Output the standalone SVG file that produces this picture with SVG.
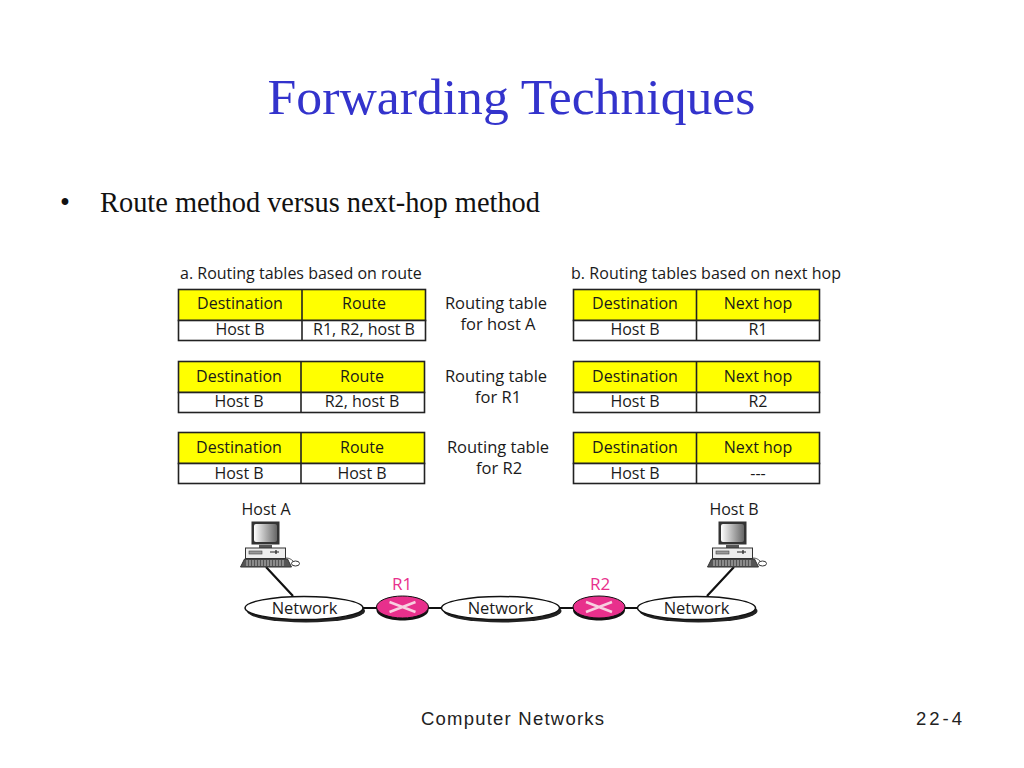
<svg xmlns="http://www.w3.org/2000/svg" width="1024" height="768" viewBox="0 0 1024 768">
<style>
.s{font-family:"Open Sans","Noto Sans",sans-serif;font-size:16px;fill:#1a1a1a;text-anchor:middle}
.l{text-anchor:start}
.b{font-size:16.500px}
.r{fill:#e8308c;font-size:17px}
.h{fill:#ffff00;stroke:#222;stroke-width:1.6}
.c{fill:#fff;stroke:#222;stroke-width:1.6}
.w{stroke:#111;stroke-width:2.2;fill:none}
.d{stroke:#222;stroke-width:1.6;fill:none}
</style>
<defs>
<linearGradient id="scr" x1="0" x2="1"><stop offset="0" stop-color="#fff"/><stop offset="1" stop-color="#666"/></linearGradient>
<g id="pc">
<rect x="11.500" y="0.500" width="28" height="23" fill="#333"/>
<rect x="14" y="3" width="23" height="18" rx="2" fill="url(#scr)"/>
<rect x="19" y="24" width="13" height="3" fill="#555"/>
<rect x="5.500" y="27" width="40" height="10.500" fill="#eee" stroke="#333"/>
<rect x="9" y="30" width="13" height="3" fill="#999" stroke="#444" stroke-width=".6"/>
<path d="M30 31h9M36 29v4" stroke="#222" stroke-width="1.200" fill="none"/>
<path d="M0.500 46l4-8h43l4 8z" fill="#555" stroke="#333"/>
<path d="M7 39v6M10 39v6M13 39v6M16 39v6M19 39v6M22 39v6M25 39v6M28 39v6M31 39v6M34 39v6M37 39v6M40 39v6M43 39v6" stroke="#ddd" stroke-width=".8"/>
<path d="M46 37c3 0 5 1 7 3" stroke="#333" fill="none" stroke-width=".8"/>
<ellipse cx="55.500" cy="42.500" rx="4" ry="2.500" fill="#fff" stroke="#333"/>
</g>
<g id="net">
<ellipse cx="2" cy="3" rx="59" ry="11.500" fill="#222"/>
<ellipse cx="0" cy="0" rx="59" ry="11.500" fill="#fff" stroke="#111" stroke-width="1.500"/>
</g>
<g id="rt">
<path d="M-26 0v3c0 6 12 10.500 26 10.500s26-4.500 26-10.500v-3z" fill="#111"/>
<ellipse cx="0" cy="0" rx="26" ry="11" fill="#e8308c" stroke="#111"/>
<path d="M-13-5L13 5M-13 5L13-5" stroke="#f8d0e0" stroke-width="2.500" fill="none"/>
</g>
</defs>
<rect width="1024" height="768" fill="#fff"/>
<g id="title"><text x="511.500" y="114" font-family="Liberation Serif,serif" font-size="51.700" fill="#3333cc" text-anchor="middle">Forwarding Techniques</text></g>
<g id="bullet" font-family="Liberation Serif,serif" font-size="28.400" fill="#111">
<text x="60" y="212">•</text><text x="100" y="212">Route method versus next-hop method</text></g>

<g id="captions">
<text class="s l" x="180" y="279">a. Routing tables based on route</text>
<text class="s l" x="571" y="279" textLength="270">b. Routing tables based on next hop</text>
<text class="s b" x="496" y="309">Routing table</text><text class="s b" x="498" y="330">for host A</text>
<text class="s b" x="496" y="382">Routing table</text><text class="s b" x="498" y="403">for R1</text>
<text class="s b" x="498" y="453">Routing table</text><text class="s b" x="499" y="474">for R2</text>
</g>

<g id="table-a1"><rect class="h" x="178.500" y="289.500" width="247" height="31"/><rect class="c" x="178.500" y="320.500" width="247" height="20"/><path class="d" d="M302 289v51"/>
<text class="s" x="240" y="309">Destination</text><text class="s" x="364" y="309">Route</text><text class="s" x="240" y="335">Host B</text><text class="s" x="364" y="335">R1, R2, host B</text></g>
<g id="table-a2"><rect class="h" x="178.500" y="361.500" width="246" height="31"/><rect class="c" x="178.500" y="392.500" width="246" height="20"/><path class="d" d="M301 361v51"/>
<text class="s" x="239" y="382">Destination</text><text class="s" x="362" y="382">Route</text><text class="s" x="239" y="407">Host B</text><text class="s" x="362" y="407">R2, host B</text></g>
<g id="table-a3"><rect class="h" x="178.500" y="432.500" width="246" height="31"/><rect class="c" x="178.500" y="463.500" width="246" height="20"/><path class="d" d="M301 432v51"/>
<text class="s" x="239" y="453">Destination</text><text class="s" x="362" y="453">Route</text><text class="s" x="239" y="479">Host B</text><text class="s" x="362" y="479">Host B</text></g>
<g id="table-b1"><rect class="h" x="573.500" y="289.500" width="246" height="31"/><rect class="c" x="573.500" y="320.500" width="246" height="20"/><path class="d" d="M696.500 289v51"/>
<text class="s" x="635" y="309">Destination</text><text class="s" x="758" y="309">Next hop</text><text class="s" x="635" y="335">Host B</text><text class="s" x="758" y="335">R1</text></g>
<g id="table-b2"><rect class="h" x="573.500" y="361.500" width="246" height="31"/><rect class="c" x="573.500" y="392.500" width="246" height="20"/><path class="d" d="M696.500 361v51"/>
<text class="s" x="635" y="382">Destination</text><text class="s" x="758" y="382">Next hop</text><text class="s" x="635" y="407">Host B</text><text class="s" x="758" y="407">R2</text></g>
<g id="table-b3"><rect class="h" x="573.500" y="432.500" width="246" height="31"/><rect class="c" x="573.500" y="463.500" width="246" height="20"/><path class="d" d="M696.500 432v51"/>
<text class="s" x="635" y="453">Destination</text><text class="s" x="758" y="453">Next hop</text><text class="s" x="635" y="479">Host B</text><text class="s" x="758" y="479">---</text></g>

<g id="connectors">
<path class="w" d="M266 567L293 596M734 567L707 596M363 608H377M428 608H442M559 608H573M625 608H638"/>
</g>
<g id="host-a"><text class="s" x="266" y="515">Host A</text><use href="#pc" x="240" y="521"/></g>
<g id="host-b"><text class="s" x="734" y="515">Host B</text><use href="#pc" x="707" y="521"/></g>
<g id="net1"><use href="#net" x="304" y="608"/><text class="s b" x="304.500" y="614">Network</text></g>
<g id="r1"><text class="s r" x="402" y="590">R1</text><use href="#rt" x="402.500" y="607"/></g>
<g id="net2"><use href="#net" x="500.500" y="608"/><text class="s b" x="500.500" y="614">Network</text></g>
<g id="r2"><text class="s r" x="600" y="590">R2</text><use href="#rt" x="599" y="607"/></g>
<g id="net3"><use href="#net" x="696.500" y="608"/><text class="s b" x="696.500" y="614">Network</text></g>
<g id="footer" font-family="Liberation Sans,sans-serif" font-size="18.500" fill="#222">
<text x="421" y="725" textLength="183">Computer Networks</text><text x="916" y="725" textLength="46">22-4</text></g>
</svg>
